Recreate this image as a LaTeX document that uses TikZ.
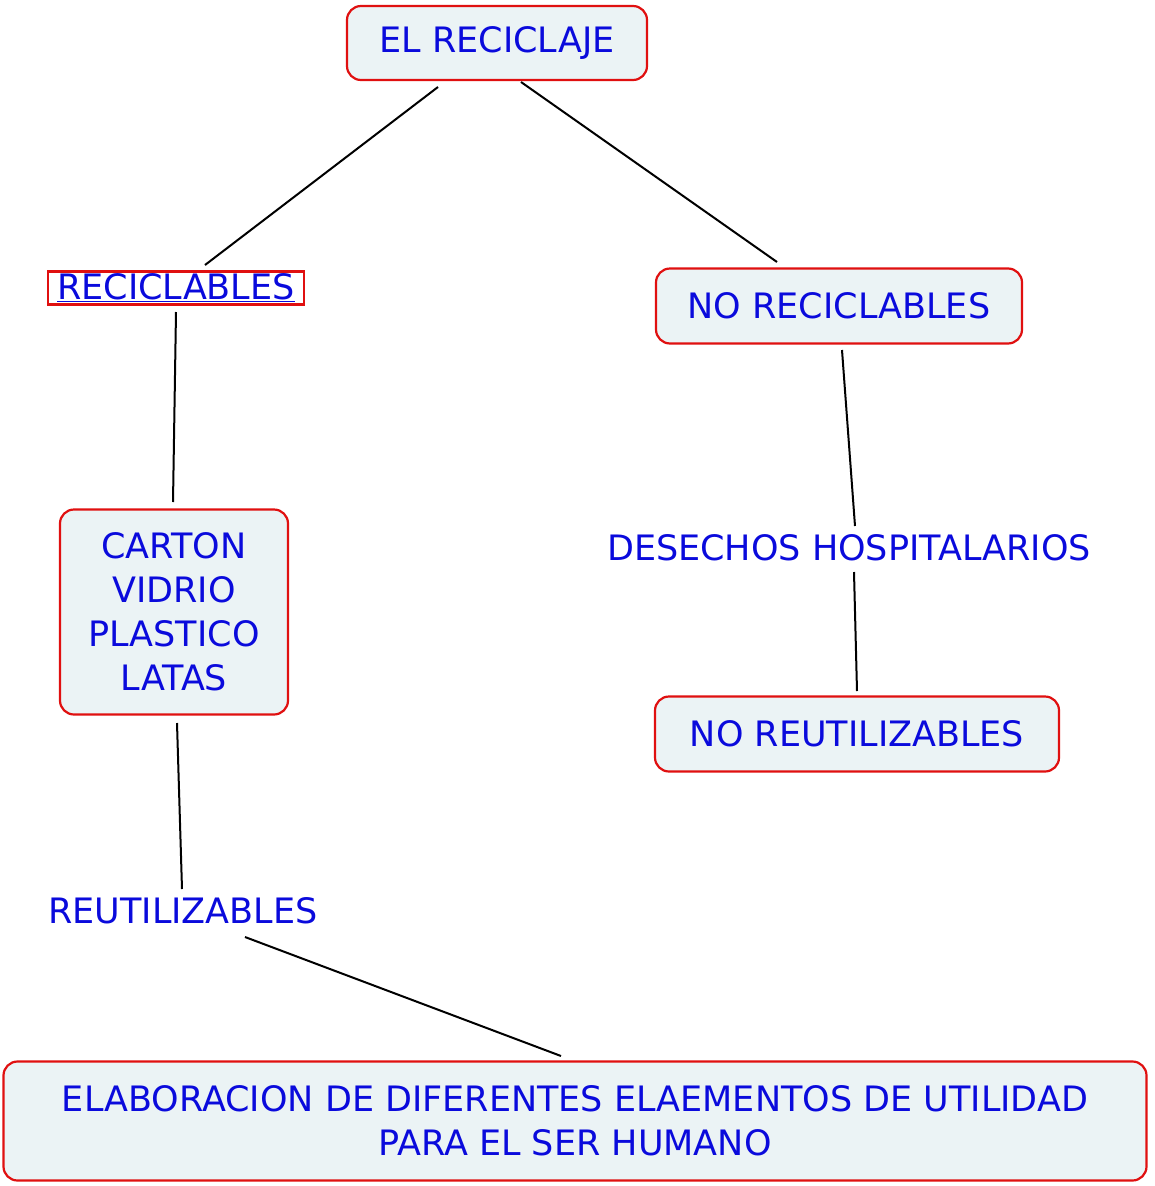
\documentclass[tikz,border=0pt]{standalone}
\usepackage{fontspec}
\setmainfont{DejaVu Sans}
\definecolor{tb}{HTML}{0A0ADC}
\definecolor{rb}{HTML}{E01010}
\definecolor{fb}{HTML}{EBF3F5}
\tikzset{
 txt/.style={text=tb,font=\fontsize{35}{44}\selectfont},
 box/.style={txt,draw=rb,line width=2.2pt,fill=fb,rounded corners=14pt,align=center,inner sep=0pt},
 lbl/.style={txt,inner sep=2pt},
 con/.style={line width=2pt}
}
\begin{document}
\begin{tikzpicture}[x=1pt,y=-1pt]
\useasboundingbox (0,0) rectangle (1154,1186);
\node[box,minimum width=300pt,minimum height=74pt] (a) at (497,43) {EL RECICLAJE};
\node[txt,draw=rb,line width=2.2pt,fill=white,minimum width=256pt,minimum height=33pt,inner sep=0pt] (b) at (176,288) {\underline{RECICLABLES}};
\node[box,minimum width=366pt,minimum height=75pt] (c) at (839,306) {NO RECICLABLES};
\node[box,minimum width=228pt,minimum height=205pt] (d) at (174,612) {CARTON\\VIDRIO\\PLASTICO\\LATAS};
\node[lbl] (e) at (849,548) {DESECHOS HOSPITALARIOS};
\node[box,minimum width=404pt,minimum height=75pt] (f) at (857,734) {NO REUTILIZABLES};
\node[lbl] (g) at (183,911) {REUTILIZABLES};
\node[box,minimum width=1143pt,minimum height=119pt] (h) at (575,1121) {ELABORACION DE DIFERENTES ELAEMENTOS DE UTILIDAD\\PARA EL SER HUMANO};
\coordinate (a1) at (438,87); \coordinate (b1) at (205,265);
\coordinate (a2) at (521,82); \coordinate (c1) at (777,262);
\coordinate (b2) at (176,312); \coordinate (d1) at (173,502);
\coordinate (c2) at (842,350); \coordinate (e1) at (855,526);
\coordinate (e2) at (854,572); \coordinate (f1) at (857,691);
\coordinate (d2) at (177,723); \coordinate (g1) at (182,889);
\coordinate (g2) at (245,937); \coordinate (h1) at (561,1056);
\draw[con] (a1) -- (b1);
\draw[con] (a2) -- (c1);
\draw[con] (b2) -- (d1);
\draw[con] (c2) -- (e1);
\draw[con] (e2) -- (f1);
\draw[con] (d2) -- (g1);
\draw[con] (g2) -- (h1);
\end{tikzpicture}
\end{document}
